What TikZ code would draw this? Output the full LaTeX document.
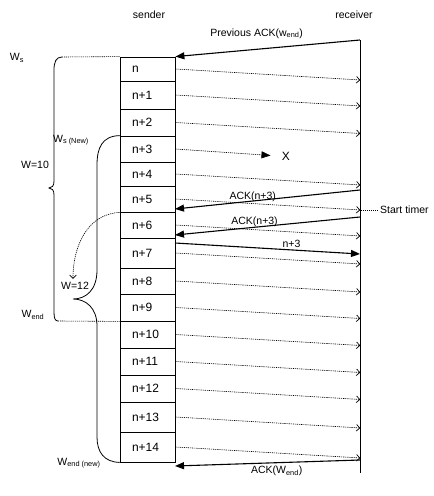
\documentclass[tikz,border=0pt]{standalone}
\usepackage{fontspec}
\setmainfont{Liberation Sans}
\usepackage{tikz}
\usetikzlibrary{arrows.meta,positioning,calc}
\definecolor{ink}{RGB}{0,0,0}

\tikzset{
  lbl/.style={font=\fontsize{10.5}{12}\selectfont, inner sep=1pt},
  cell/.style={draw=ink, line width=0.8pt, minimum width=55pt, text width=31pt,
    inner xsep=12pt, inner ysep=0pt, align=left, font=\fontsize{12}{14}\selectfont},
  dots/.style={ink, line width=0.6pt, dash pattern=on 1.2pt off 0.9pt},
  msg/.style={dots, -{Straight Barb[length=3.5pt,width=6.5pt,line width=0.7pt]}},
  ack/.style={ink, line width=1.1pt, -{Triangle[length=9pt,width=7pt]}}
}

\begin{document}
\begin{tikzpicture}[x=1pt,y=-1pt]
\useasboundingbox (0,0) rectangle (434,496);
% sender window
\foreach \i/\t/\b/\lab in {0/57/81/n, 1/81/109/n+1, 2/109/136/n+2, 3/136/162/n+3,
  4/162/186/n+4, 5/186/212/n+5, 6/212/238/n+6, 7/238/268/n+7, 8/268/294/n+8,
  9/294/321/n+9, 10/321/348/n+10, 11/348/375/n+11, 12/375/402/n+12,
  13/402/432/n+13, 14/432/462/n+14}
  \node[cell, minimum height={\b pt-\t pt}] (r\i) at (147.5,{(\t+\b)/2}) {\lab};
\node[lbl] (sender) at (149,15) {sender};
\node[lbl] (receiver) at (354,15) {receiver};
% receiver line
\coordinate (rtop) at (360,40);
\coordinate (rbot) at (360,473);
\draw[ink, line width=1pt] (rtop) -- (rbot);
% segments sent
\foreach \i in {0,1,2,4,5,...,14} {
  \coordinate (d\i) at ($(r\i.east)+(185,11)$);
  \draw[msg] (r\i.east) -- (d\i);
}
\node[font=\fontsize{12}{14}\selectfont] (lost) at (286,156) {X};
\draw[ack, line width=0.6pt, dash pattern=on 1.2pt off 0.9pt, shorten >=8pt] (r3.east) -- (lost.west);
\node[lbl, anchor=west] (timer) at (379,210) {Start timer};
\draw[dots] (d5) -- (timer.west);
% acks
\draw[ack] (rtop) -- (r0.north east) node[lbl, pos=.56, yshift=16pt] {Previous ACK(w\textsubscript{end})};
\coordinate (a1s) at (360,190);
\coordinate (a1e) at (175,209);
\draw[ack] (a1s) -- (a1e) node[lbl, pos=.58, yshift=4pt] {ACK(n+3)};
\coordinate (a2s) at (360,217);
\coordinate (a2e) at (175,235);
\draw[ack] (a2s) -- (a2e) node[lbl, pos=.57, yshift=5pt] {ACK(n+3)};
\coordinate (rts) at (175,243);
\coordinate (rte) at (360,254);
\draw[ack] (rts) -- (rte) node[lbl, pos=.63, yshift=6pt] {n+3};
\coordinate (a3s) at (360,460);
\coordinate (a3e) at (175,466);
\draw[ack] (a3s) -- (a3e) node[lbl, pos=.45, yshift=-8pt] {ACK(W\textsubscript{end})};
% old window brace
\coordinate (b1top) at (62,57);
\coordinate (b1tip) at (49,188);
\coordinate (b1bot) at (58,321);
\draw[dots] (r0.north west) -- (b1top);
\draw[ink, line width=0.8pt] (b1top) .. controls (56,57) and (54,62) .. (54,70) -- (54,181)
  .. controls (54,186) and (52,188) .. (b1tip) .. controls (52,188) and (54,190) .. (54,195)
  -- (54,312) .. controls (54,318) and (55,321) .. (b1bot);
\draw[dots] (b1bot) -- (r9.south west);
% new window brace
\coordinate (b2tip) at (73,299);
\draw[ink, line width=0.8pt] (r3.north west) .. controls (102,136) and (97,148) .. (97,165) -- (97,270)
  .. controls (97,290) and (86,299) .. (b2tip) .. controls (86,299) and (97,308) .. (97,326)
  -- (97,437) .. controls (97,452) and (104,462) .. (r14.south west);
\coordinate (slide) at (73,279);
\draw[msg] (r5.south west) .. controls (88,214) and (73,245) .. (slide);
% window labels
\node[lbl] (ws) at (17,58) {W\textsubscript{s}};
\node[lbl] (w10) at (35,165) {W=10};
\node[lbl] (wsnew) at (71,140) {W\textsubscript{s (New)}};
\node[lbl] (w12) at (75,286) {W=12};
\node[lbl] (wend) at (33,315) {W\textsubscript{end}};
\node[lbl] (wendnew) at (79,463) {W\textsubscript{end (new)}};
\end{tikzpicture}
\end{document}
